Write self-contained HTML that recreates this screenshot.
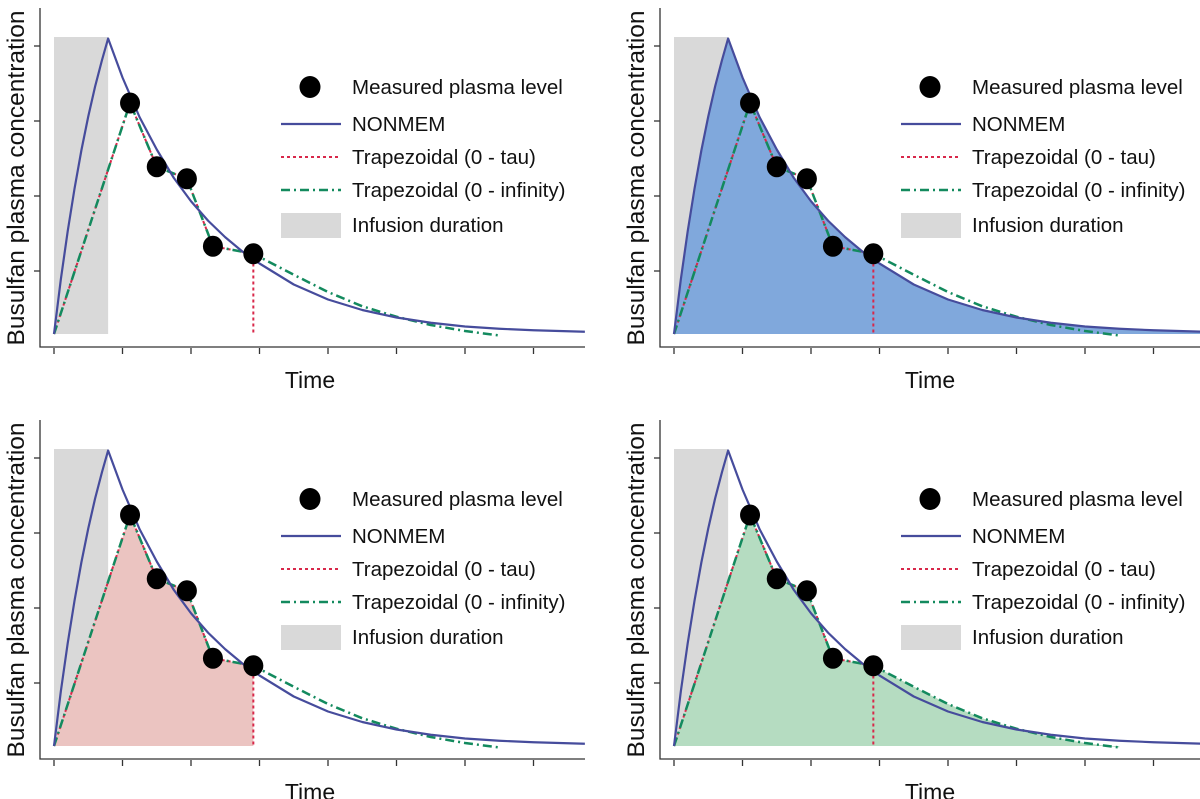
<!DOCTYPE html>
<html><head><meta charset="utf-8">
<style>html,body{margin:0;padding:0;background:#fff}svg{display:block;font-family:"Liberation Sans",Arial,sans-serif}</style>
</head><body>
<svg id="chart" width="1200" height="799" viewBox="0 0 1200 799" xmlns="http://www.w3.org/2000/svg"></svg>
<script>
const xTicks = [0,1,2,3,4,5,6,7];
const yTicks = [1,2,3,4];
const infusionEnd = 0.79;
const measuredTimes = [1.11,1.50,1.94,2.32,2.91];
const measuredConc = [3.24,2.39,2.23,1.33,1.23];
const baseline = 0.16;
const modelTimes = [0,0.1,0.2,0.3,0.4,0.5,0.6,0.7,0.79,1.0,1.25,1.5,1.75,2.0,2.25,2.5,2.75,3.0,3.5,4,4.5,5,5.5,6,6.5,7,7.75];
const modelConc = [0.16,0.89,1.53,2.10,2.61,3.06,3.46,3.81,4.10,3.58,3.05,2.62,2.24,1.93,1.67,1.45,1.26,1.10,0.82,0.62,0.48,0.38,0.31,0.26,0.23,0.21,0.19];
const extrapTimes = [3.5,4,4.5,5,5.5,6,6.5];
const extrapConc = [0.95,0.72,0.53,0.39,0.28,0.20,0.14];
const panels = [
  {ox:0, oy:0, fill:null, name:'panel-plain'},
  {ox:620, oy:0, fill:'model', color:'#80a8dc', name:'panel-nonmem-auc'},
  {ox:0, oy:412, fill:'tau', color:'#ebc4c1', name:'panel-trapezoid-tau-auc'},
  {ox:620, oy:412, fill:'inf', color:'#b5dcc1', name:'panel-trapezoid-inf-auc'}
];
const NS='http://www.w3.org/2000/svg';
const svg=document.getElementById('chart');
function mk(tag,attrs,parent){const e=document.createElementNS(NS,tag);for(const k in attrs)e.setAttribute(k,attrs[k]);parent.appendChild(e);return e;}
panels.forEach(p=>{
  const X=t=>p.ox+54+68.5*t;
  const Y=v=>p.oy+346-75*v;
  const g=mk('g',{},svg);
  
  
  const r=mk('rect',{x:X(0),y:p.oy+37,width:X(infusionEnd)-X(0),height:Y(baseline)-(p.oy+37),fill:'#d9d9d9'},g);
  
  
  const pts=(ts,vs)=>ts.map((t,i)=>X(t)+','+Y(vs[i]));
  const trapT=[0].concat(measuredTimes), trapV=[baseline].concat(measuredConc);
  if(p.fill){
    let poly;
    if(p.fill==='model') poly=pts(modelTimes,modelConc).concat([X(modelTimes[modelTimes.length-1])+','+Y(baseline)]);
    else if(p.fill==='tau') poly=pts(trapT,trapV).concat([X(measuredTimes[measuredTimes.length-1])+','+Y(baseline)]);
    else poly=pts(trapT,trapV).concat(pts(extrapTimes,extrapConc)).concat([X(extrapTimes[extrapTimes.length-1])+','+Y(baseline)]);
    const f=mk('polygon',{points:poly.join(' '),fill:p.color},g);
    
    
  }
  const red=mk('polyline',{points:pts(trapT,trapV).concat([X(measuredTimes[4])+','+Y(baseline)]).join(' '),fill:'none',stroke:'#d8284a','stroke-width':2,'stroke-dasharray':'3,3'},g);
  
  
  const grn=mk('polyline',{points:pts(trapT,trapV).concat(pts(extrapTimes,extrapConc)).join(' '),fill:'none',stroke:'#138a5e','stroke-width':2.5,'stroke-dasharray':'9,4,2,4'},g);
  
  
  const blue=mk('polyline',{points:pts(modelTimes,modelConc).join(' '),fill:'none',stroke:'#464c9c','stroke-width':2.2,'stroke-linejoin':'round'},g);
  
  
  measuredTimes.forEach((t,i)=>{
    const c=mk('ellipse',{cx:X(t),cy:Y(measuredConc[i]),rx:10,ry:10.5,fill:'#000'},g);
    
    
  });
  const ax=mk('path',{d:`M${p.ox+40},${p.oy+8} V${p.oy+347} H${p.ox+585}`,fill:'none',stroke:'#333','stroke-width':1.3},g);
  
  
  xTicks.forEach(t=>{
    const l=mk('line',{x1:X(t),x2:X(t),y1:p.oy+348,y2:p.oy+354,stroke:'#333','stroke-width':1.3},g);
    
    
  });
  yTicks.forEach(v=>{
    const l=mk('line',{x1:p.ox+34,x2:p.ox+40,y1:Y(v),y2:Y(v),stroke:'#333','stroke-width':1.3},g);
    
    
  });
  const xt=mk('text',{x:p.ox+310,y:p.oy+388,'text-anchor':'middle','font-size':23,fill:'#111'},g);
  xt.textContent='Time';
  
  
  const yt=mk('text',{x:0,y:0,'text-anchor':'middle','font-size':24.5,fill:'#111',transform:`translate(${p.ox+24},${p.oy+178}) rotate(-90)`},g);
  yt.textContent='Busulfan plasma concentration';
  
  
  const lg=mk('g',{},g);
  
  
  const lx=p.ox+352, s1=p.ox+281, s2=p.ox+341;
  mk('ellipse',{cx:p.ox+310,cy:p.oy+87,rx:10.5,ry:11,fill:'#000'},lg);
  mk('line',{x1:s1,x2:s2,y1:p.oy+124,y2:p.oy+124,stroke:'#464c9c','stroke-width':2.2},lg);
  mk('line',{x1:s1,x2:s2,y1:p.oy+157,y2:p.oy+157,stroke:'#d8284a','stroke-width':2,'stroke-dasharray':'3,3'},lg);
  mk('line',{x1:s1,x2:s2,y1:p.oy+190,y2:p.oy+190,stroke:'#138a5e','stroke-width':2.5,'stroke-dasharray':'9,4,2,4'},lg);
  mk('rect',{x:s1,y:p.oy+213,width:60,height:25,fill:'#d9d9d9'},lg);
  const labels=['Measured plasma level','NONMEM','Trapezoidal (0 - tau)','Trapezoidal (0 - infinity)','Infusion duration'];
  const ly=[87,124,157,190,225];
  labels.forEach((s,i)=>{
    const t=mk('text',{x:lx,y:p.oy+ly[i]+7,'font-size':20.5,fill:'#111'},lg);
    t.textContent=s;
    
    
  });
});
</script>
</body></html>
